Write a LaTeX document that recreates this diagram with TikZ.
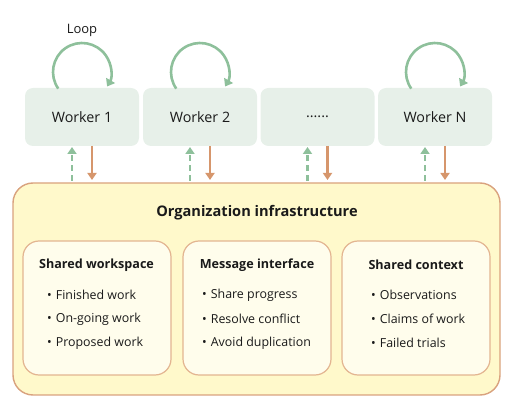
\documentclass[tikz,border=0pt]{standalone}
\usepackage{fontspec}
\setmainfont{Open Sans}
\usetikzlibrary{arrows.meta}
\definecolor{wfill}{HTML}{E7F0E9}
\definecolor{loopc}{HTML}{8EC09B}
\definecolor{orangec}{HTML}{D6966C}
\definecolor{bigfill}{HTML}{FFF9CB}
\definecolor{bigdraw}{HTML}{D9A27E}
\definecolor{infill}{HTML}{FFFDEC}
\definecolor{indraw}{HTML}{E3B591}
\definecolor{txt}{HTML}{1A1A1A}
\tikzset{
  worker/.style={fill=wfill, draw=none, rounded corners=8pt, minimum width=114pt, minimum height=58pt, font=\fontsize{14.3}{16}\selectfont, text=txt, inner sep=0pt},
  loopline/.style={draw=loopc, line width=2.6pt, -{Triangle[length=7pt,width=10pt]}},
  uparrow/.style={draw=loopc, line width=2.6pt, dash pattern=on 6pt off 4pt, -{Triangle[length=7pt,width=9pt]}},
  downarrow/.style={draw=orangec, line width=2.4pt, -{Triangle[length=7pt,width=9pt]}},
  bigbox/.style={fill=bigfill, draw=bigdraw, line width=1.4pt, rounded corners=20pt},
  inbox/.style={fill=infill, draw=indraw, line width=1.2pt, rounded corners=16pt},
  heading/.style={font=\bfseries\fontsize{12.6}{14}\selectfont, text=txt, inner sep=0pt},
  bullet/.style={font=\fontsize{12.4}{14}\selectfont, text=txt, anchor=west, inner sep=0pt},
}
\begin{document}
\begin{tikzpicture}[x=1pt,y=-1pt]
\useasboundingbox (0,0) rectangle (514,411);
% workers
\node[worker] (w1) at (82,117) {Worker 1};
\node[worker] (w2) at (200,117) {Worker 2};
\node[worker] (w3) at (317.5,117) {......};
\node[worker] (w4) at (435,117) {Worker N};
% loops
\foreach \c/\n in {82/l1,200/l2,435/l4}{
  \coordinate (\n) at (\c,72);
  \draw[loopline] ([shift={(145:29)}]\n) arc[start angle=145, end angle=390, radius=29];
}
\node[font=\fontsize{13}{15}\selectfont, text=txt] (loop) at (82,30) {Loop};
% big box
\node[bigbox, minimum width=487pt, minimum height=212pt] (big) at (256.5,289) {};
\node[font=\bfseries\fontsize{14.6}{17}\selectfont, text=txt, inner sep=0pt] (title) at (257,213) {Organization infrastructure};
% arrows
\foreach \w/\c in {w1/82,w2/200,w3/317.5,w4/435}{
  \coordinate (u\w) at (\c-10,181);
  \coordinate (d\w) at (\c+10,146);
  \draw[uparrow] (u\w) -- (\c-10,147);
  \draw[downarrow] (d\w) -- (\c+10,180);
}
% inner boxes
\node[inbox, minimum width=148pt, minimum height=134pt] (b1) at (97,308) {};
\node[inbox, minimum width=148pt, minimum height=134pt] (b2) at (257,308) {};
\node[inbox, minimum width=148pt, minimum height=134pt] (b3) at (416,308) {};
\node[heading] (h1) at (96.5,265) {Shared workspace};
\node[heading] (h2) at (257,265) {Message interface};
\node[heading] (h3) at (416,265) {Shared context};
\node[bullet] (a1) at (47,295) {•\hspace{4pt}Finished work};
\node[bullet] (a2) at (47,319) {•\hspace{4pt}On-going work};
\node[bullet] (a3) at (47,343) {•\hspace{4pt}Proposed work};
\node[bullet] (c1) at (202,295) {•\hspace{4pt}Share progress};
\node[bullet] (c2) at (202,319) {•\hspace{4pt}Resolve conflict};
\node[bullet] (c3) at (202,343) {•\hspace{4pt}Avoid duplication};
\node[bullet] (e1) at (371,295) {•\hspace{4pt}Observations};
\node[bullet] (e2) at (371,319) {•\hspace{4pt}Claims of work};
\node[bullet] (e3) at (371,343) {•\hspace{4pt}Failed trials};
\end{tikzpicture}
\end{document}
